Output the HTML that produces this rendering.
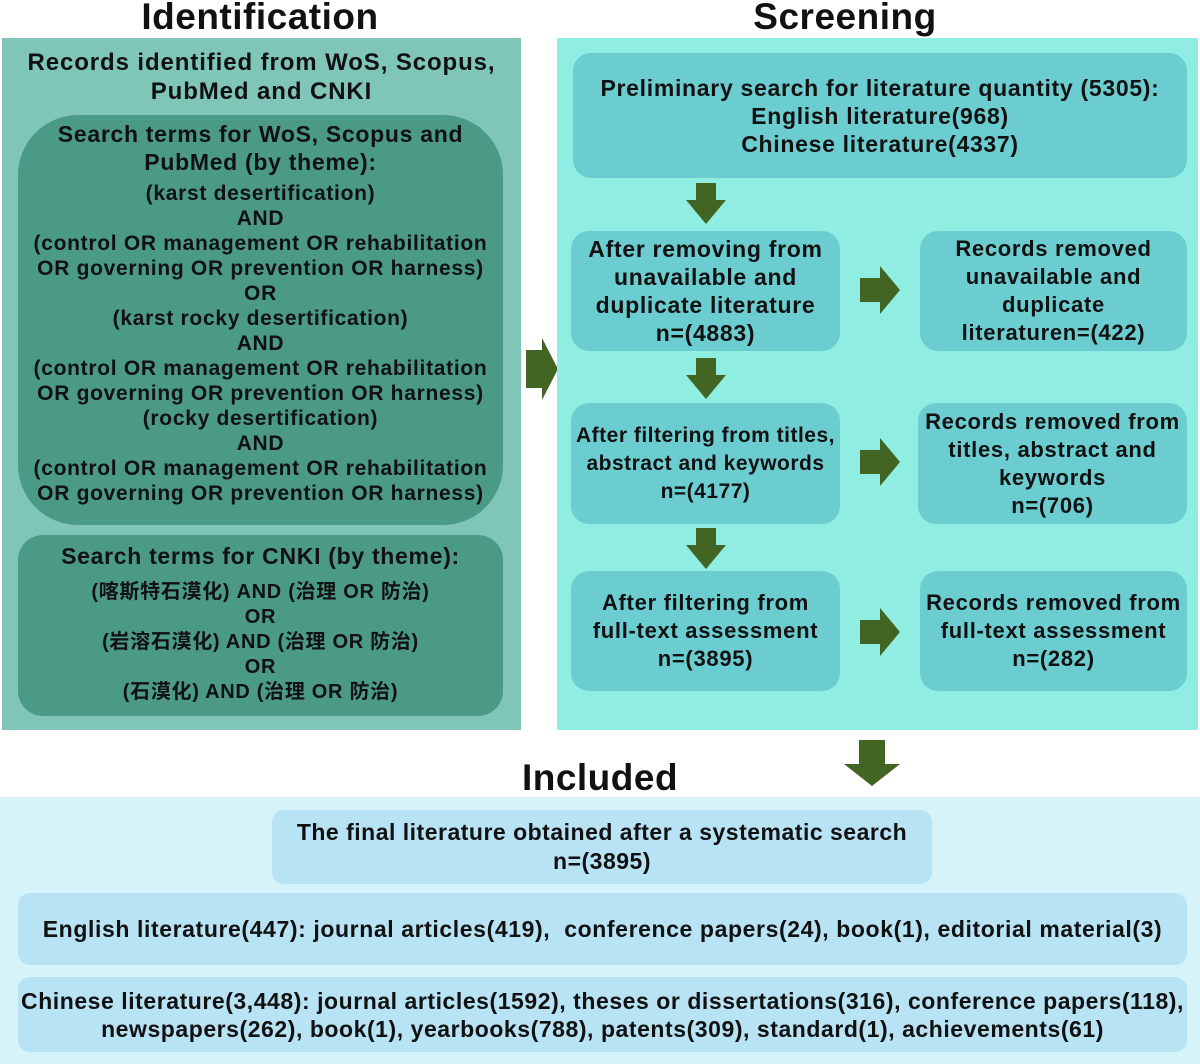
<!DOCTYPE html>
<html><head><meta charset="utf-8"><style>
body{margin:0;width:1200px;height:1064px;background:#fff;position:relative;overflow:hidden;font-family:"Liberation Sans","Noto Sans CJK SC",sans-serif;font-weight:bold;color:#111;letter-spacing:0.7px;}
div{position:absolute;box-sizing:border-box;}
.t{text-align:center;font-size:22px;line-height:27px;display:flex;flex-direction:column;justify-content:center;align-items:center;white-space:nowrap;}
.h{font-size:37px;text-align:center;line-height:36px;letter-spacing:0.5px;}
.b{background:#6ccdd0;border-radius:18px;}
</style></head><body>
<div class="h" style="left:80px;top:-1px;width:360px">Identification</div>
<div class="h" style="left:690px;top:-1px;width:310px">Screening</div>
<div style="left:2px;top:38px;width:519px;height:692px;background:#7fc6b8"></div>
<div class="t" style="left:2px;top:45px;width:519px;height:64px;font-size:24px;line-height:29px;letter-spacing:0.9px">Records identified from WoS, Scopus,<br>PubMed and CNKI</div>
<div class="t" style="left:18px;top:115px;width:485px;height:410px;background:#4a9a86;border-radius:60px;justify-content:flex-start;padding-top:5px;line-height:25px;font-size:21px"><span style="font-size:23px;line-height:28px;padding-bottom:5px">Search terms for WoS, Scopus and<br>PubMed (by theme):</span>(karst desertification)<br>AND<br>(control OR management OR rehabilitation<br>OR governing OR prevention OR harness)<br>OR<br>(karst rocky desertification)<br>AND<br>(control OR management OR rehabilitation<br>OR governing OR prevention OR harness)<br>(rocky desertification)<br>AND<br>(control OR management OR rehabilitation<br>OR governing OR prevention OR harness)</div>
<div class="t" style="left:18px;top:535px;width:485px;height:181px;background:#4a9a86;border-radius:25px;justify-content:flex-start;padding-top:3px;line-height:25px;font-size:20px"><span style="font-size:23px;line-height:36px;padding-bottom:6px">Search terms for CNKI (by theme):</span>(喀斯特石漠化) AND (治理 OR 防治)<br>OR<br>(岩溶石漠化) AND (治理 OR 防治)<br>OR<br>(石漠化) AND (治理 OR 防治)</div>
<svg style="position:absolute;left:524px;top:336px" width="36" height="66"><polygon points="2,14 18,14 18,2 34,33 18,64 18,52 2,52" fill="#436524"/></svg>
<div style="left:557px;top:38px;width:641px;height:692px;background:#90ede2"></div>
<div class="b t" style="left:573px;top:53px;width:614px;height:125px;line-height:28px;font-size:23px">Preliminary search for literature quantity (5305):<br>English literature(968)<br>Chinese literature(4337)</div>
<div class="b t" style="left:571px;top:231px;width:269px;height:120px;font-size:23px;line-height:28px">After removing from<br>unavailable and<br>duplicate literature<br>n=(4883)</div>
<div class="b t" style="left:920px;top:231px;width:267px;height:120px;font-size:22px;line-height:28px">Records removed<br>unavailable and<br>duplicate<br>literaturen=(422)</div>
<div class="b t" style="left:571px;top:403px;width:269px;height:121px;font-size:21px;line-height:28px;letter-spacing:0.5px">After filtering from titles,<br>abstract and keywords<br>n=(4177)</div>
<div class="b t" style="left:918px;top:403px;width:269px;height:121px;font-size:22px;line-height:28px">Records removed from<br>titles, abstract and<br>keywords<br>n=(706)</div>
<div class="b t" style="left:571px;top:571px;width:269px;height:120px;font-size:22px;line-height:28px">After filtering from<br>full-text assessment<br>n=(3895)</div>
<div class="b t" style="left:920px;top:571px;width:267px;height:120px;font-size:22px;line-height:28px">Records removed from<br>full-text assessment<br>n=(282)</div>
<svg style="position:absolute;left:0;top:0" width="1200" height="800">
<g fill="#436524">
<polygon points="696,183 716,183 716,200 726,200 706,224 686,200 696,200"/>
<polygon points="696,358 716,358 716,375 726,375 706,399 686,375 696,375"/>
<polygon points="696,528 716,528 716,545 726,545 706,569 686,545 696,545"/>
<polygon points="860,278 880,278 880,266 900,290 880,314 880,302 860,302"/>
<polygon points="860,450 880,450 880,438 900,462 880,486 880,474 860,474"/>
<polygon points="860,620 880,620 880,608 900,632 880,656 880,644 860,644"/>
<polygon points="859,740 885,740 885,764 900,764 872,786 844,764 859,764"/>
</g></svg>
<div class="h" style="left:460px;top:760px;width:280px">Included</div>
<div style="left:0;top:797px;width:1200px;height:267px;background:#d5f3f8"></div>
<div class="b t" style="left:272px;top:810px;width:660px;height:74px;background:#b7e3f5;border-radius:12px;font-size:23px;line-height:29px;letter-spacing:0.5px">The final literature obtained after a systematic search<br>n=(3895)</div>
<div class="b t" style="left:18px;top:893px;width:1169px;height:72px;background:#b7e3f5;border-radius:12px;font-size:23px;letter-spacing:0.6px">English literature(447): journal articles(419),&nbsp; conference papers(24), book(1), editorial material(3)</div>
<div class="b t" style="left:18px;top:977px;width:1169px;height:75px;background:#b7e3f5;border-radius:12px;font-size:23px;line-height:28px;letter-spacing:0.55px">Chinese literature(3,448): journal articles(1592), theses or dissertations(316), conference papers(118),<br>newspapers(262), book(1), yearbooks(788), patents(309), standard(1), achievements(61)</div>
</body></html>
